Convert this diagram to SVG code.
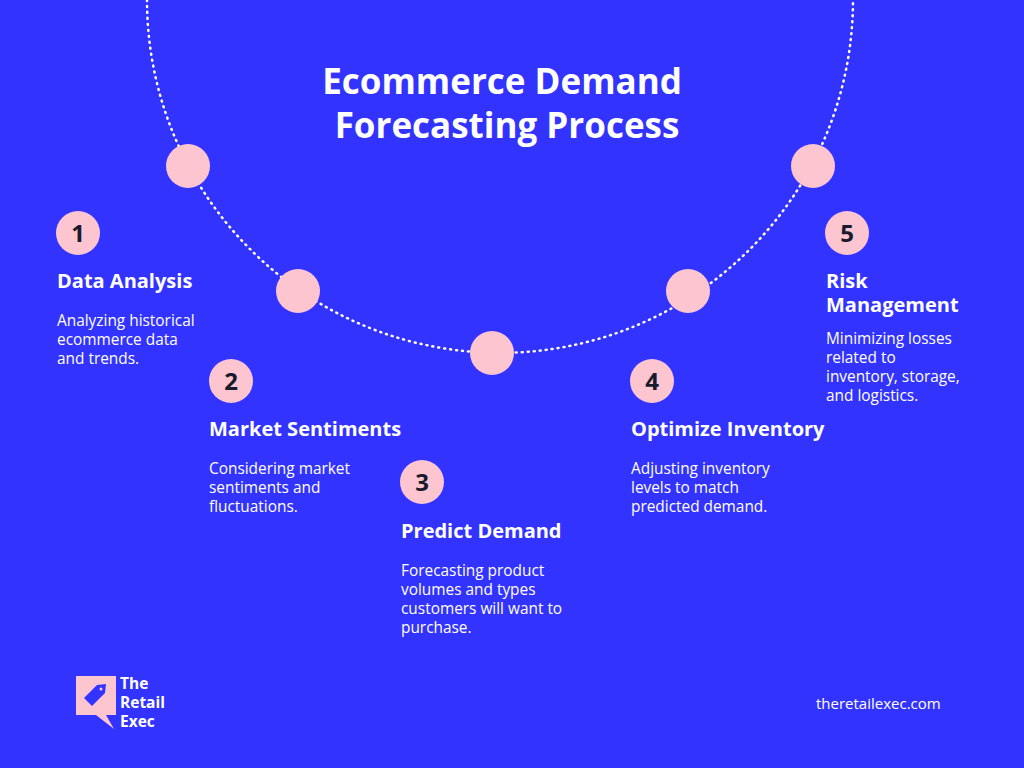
<svg xmlns="http://www.w3.org/2000/svg" width="1024" height="768" viewBox="0 0 1024 768">
<style>
.t{font-family:"Open Sans","Liberation Sans",sans-serif;fill:#fff}
.h{font-size:20px;font-weight:700}
.b{font-size:15.4px}
.n{font-family:"Open Sans","Liberation Sans",sans-serif;font-size:24px;font-weight:700;fill:#1a1a2e;text-anchor:middle}
.c{fill:#fcc5d0}
</style>
<rect width="1024" height="768" fill="#3333ff"/>
<g id="connectors"><path d="M147,0 A353,353 0 0 0 853,0" fill="none" stroke="#fff" stroke-width="2.5" stroke-dasharray="1 5" stroke-linecap="round"/></g>
<text class="t" x="502" y="94" font-size="35" font-weight="700" text-anchor="middle">Ecommerce Demand</text>
<text class="t" x="507" y="138" font-size="35" font-weight="700" text-anchor="middle">Forecasting Process</text>
<g id="dots"><circle class="c" cx="188" cy="166" r="22"/><circle class="c" cx="298" cy="291" r="22"/><circle class="c" cx="492" cy="353" r="22"/><circle class="c" cx="688" cy="291" r="22"/><circle class="c" cx="813" cy="166" r="22"/></g>
<g id="step1"><circle class="c" cx="78" cy="233" r="22"/><text class="n" x="78" y="242">1</text>
<text class="t h" x="57" y="288">Data Analysis</text>
<text class="t b" x="57" y="326">Analyzing historical</text><text class="t b" x="57" y="345">ecommerce data</text><text class="t b" x="57" y="364">and trends.</text></g>
<g id="step2"><circle class="c" cx="231" cy="381" r="22"/><text class="n" x="231" y="390">2</text>
<text class="t h" x="209" y="436">Market Sentiments</text>
<text class="t b" x="209" y="474">Considering market</text><text class="t b" x="209" y="493">sentiments and</text><text class="t b" x="209" y="512">fluctuations.</text></g>
<g id="step3"><circle class="c" cx="422" cy="482" r="22"/><text class="n" x="422" y="491">3</text>
<text class="t h" x="401" y="538">Predict Demand</text>
<text class="t b" x="401" y="576">Forecasting product</text><text class="t b" x="401" y="595">volumes and types</text><text class="t b" x="401" y="614">customers will want to</text><text class="t b" x="401" y="633">purchase.</text></g>
<g id="step4"><circle class="c" cx="652" cy="381" r="22"/><text class="n" x="652" y="390">4</text>
<text class="t h" x="631" y="436">Optimize Inventory</text>
<text class="t b" x="631" y="474">Adjusting inventory</text><text class="t b" x="631" y="493">levels to match</text><text class="t b" x="631" y="512">predicted demand.</text></g>
<g id="step5"><circle class="c" cx="847" cy="233" r="22"/><text class="n" x="847" y="242">5</text>
<text class="t h" x="826" y="288">Risk</text><text class="t h" x="826" y="312">Management</text>
<text class="t b" x="826" y="344">Minimizing losses</text><text class="t b" x="826" y="363">related to</text><text class="t b" x="826" y="382">inventory, storage,</text><text class="t b" x="826" y="401">and logistics.</text></g>
<g id="logo"><path d="M76,676 H116 V715 H106 L114,729 L96,715 H76 Z" fill="#fcc5d0"/>
<path d="M84,698 L97,685 L106,684 L105,693 L92,706 Z" fill="#3333ff"/>
<circle cx="101" cy="689" r="1.5" fill="#fcc5d0"/>
<text class="t" x="120" y="689" font-size="15.5" font-weight="700" font-family="Roboto,'Liberation Sans Narrow',sans-serif">The</text><text class="t" x="120" y="708" font-size="15.5" font-weight="700" font-family="Roboto,sans-serif">Retail</text><text class="t" x="120" y="727" font-size="15.5" font-weight="700" font-family="Roboto,sans-serif">Exec</text></g>
<text class="t" x="816" y="709" font-size="15">theretailexec.com</text>
</svg>
